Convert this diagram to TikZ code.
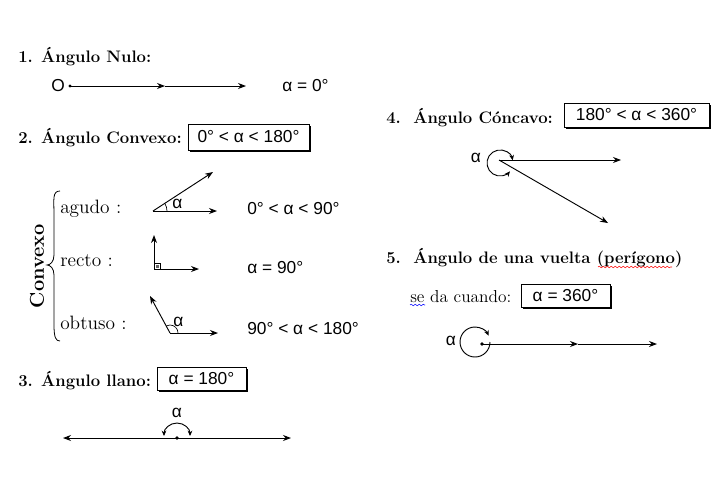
\documentclass[tikz,border=0pt]{standalone}
\usepackage{fontspec}
\newfontfamily\fsans{Liberation Sans}
\usetikzlibrary{arrows.meta,decorations.pathmorphing,calc}
\tikzset{
 head/.style={anchor=west,inner sep=0pt,font=\fontsize{12.5}{14}\selectfont\bfseries},
 frm/.style={anchor=west,inner sep=0pt,font=\fsans\fontsize{13}{15}\selectfont},
 lbl/.style={anchor=west,inner sep=0pt,font=\fontsize{14.5}{16}\selectfont},
 ray/.style={line width=0.7pt,-{Stealth[length=6pt,width=4.5pt]}},
 arcarr/.style={line width=0.7pt,-{Stealth[length=4pt,width=3.5pt]}},
}
\newcommand{\shadowbox}[5]{%
 \draw[line width=0.6pt] (#1,#2) rectangle (#3,#4);
 \draw[line width=1.6pt] (#1+2,#4+0.8) -- (#3+0.8,#4+0.8) -- (#3+0.8,#2+2);
 \node[frm,anchor=center] at ({(#1+#3)/2},{(#2+#4)/2}) {#5};}
\begin{document}
\begin{tikzpicture}[x=0.75pt,y=-0.75pt]
\useasboundingbox (0,0) rectangle (727,479);
% 1
\node[head] (h1) at (18,57) {1. Ángulo Nulo:};
\node[frm,anchor=center] (O) at (58,86) {O};
\fill (70,86) circle (1.6);
\coordinate (n1) at (70,86); \coordinate (n2) at (165,86); \coordinate (n3) at (246,86);
\draw[ray] (n1) -- (n2); \draw[ray] (n2) -- (n3);
\node[frm] (f1) at (282,86) {α = 0°};
% 2
\node[head] (h2) at (18,138) {2. Ángulo Convexo:};
\shadowbox{188}{124}{309}{150}{0° < α < 180°}
\draw[line width=0.6pt] (60,191) .. controls (52,191) and (54,200) .. (54,215) -- (54,255) .. controls (54,262) and (50,265) .. (47,265) .. controls (50,265) and (54,268) .. (54,275) -- (54,325) .. controls (54,338) and (56,341) .. (60,341);
\node[rotate=90,inner sep=0pt,font=\fontsize{15}{17}\selectfont\bfseries] (cv) at (37,266) {Convexo};
\node[lbl] (ag) at (60,209) {agudo :};
\coordinate (va) at (153,211);
\draw[ray] (va) -- (217,211); \draw[ray] (va) -- (213,172);
\draw[line width=0.5pt] (167,211) arc (0:-32:14);
\node[frm] at (172,204) {α};
\node[frm] (fa) at (247,209) {0° < α < 90°};
\node[lbl] (re) at (60,261) {recto :};
\coordinate (vr) at (154,269);
\draw[ray] (vr) -- (199,269); \draw[ray] (vr) -- (154,235);
\draw[line width=0.5pt] (154,263) rectangle (160,269);
\fill[black!60] (155.5,264.5) rectangle (158.5,268);
\node[frm] (fr) at (247,268) {α = 90°};
\node[lbl] (ob) at (60,323) {obtuso :};
\coordinate (vo) at (170,333);
\draw[ray] (vo) -- (218,333); \draw[ray] (vo) -- (150,296);
\draw[line width=0.5pt] (178,333) arc (0:-118:8);
\node[frm] at (173,322) {α};
\node[frm] (fo) at (247,329) {90° < α < 180°};
% 3
\node[head] (h3) at (18,381) {3. Ángulo llano:};
\shadowbox{157}{367}{246}{390}{α = 180°}
\coordinate (ll) at (177,438);
\draw[line width=0.7pt,{Stealth[length=6pt,width=4.5pt]}-{Stealth[length=6pt,width=4.5pt]}] (63,438) -- (291,438);
\fill (ll) circle (1.8);
\draw[line width=0.7pt,{Stealth[length=4pt,width=3.5pt]}-{Stealth[length=4pt,width=3.5pt]}] (164,436) arc (180:360:13);
\node[frm,anchor=center] at (177,413) {α};
% 4
\node[head] (h4) at (386,118) {4.\ \ Ángulo Cóncavo:};
\shadowbox{564}{103}{709}{127}{180° < α < 360°}
\coordinate (vc) at (499,160);
\draw[ray] (vc) -- (621,160); \draw[ray] (vc) -- (608,223);
\draw[line width=0.7pt,{Stealth[length=4pt,width=3.5pt]}-{Stealth[length=4pt,width=3.5pt]}] ($(500,163)+(-12:13)$) arc (-12:-320:13);
\node[frm,anchor=center] at (476,158) {α};
% 5
\node[head] (h5) at (386,258) {5.\ \ Ángulo de una vuelta (perígono)};
\draw[red,line width=0.4pt,decorate,decoration={snake,amplitude=0.6pt,segment length=3pt}] (598,267) -- (672,267);
\node[lbl,font=\fontsize{13}{15}\selectfont] (sd) at (410,297) {se da cuando:};
\draw[blue,line width=0.4pt,decorate,decoration={snake,amplitude=0.6pt,segment length=3pt}] (410,305) -- (425,305);
\shadowbox{521}{284}{610}{307}{α = 360°}
\coordinate (vp) at (482,344);
\fill (vp) circle (1.8);
\draw[ray] (vp) -- (578,344); \draw[ray] (578,344) -- (657,344);
\draw[arcarr] (490,342) arc (0:335:15);
\node[frm,anchor=center] at (451,341) {α};
\end{tikzpicture}
\end{document}
